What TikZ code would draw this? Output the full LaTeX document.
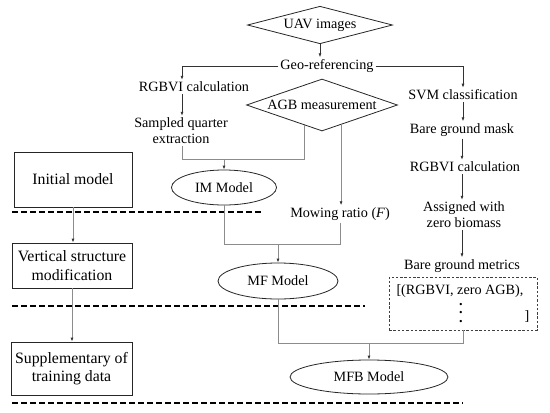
\documentclass[tikz,border=0pt]{standalone}
\usepackage{fontspec}
\setmainfont{Liberation Serif}
\usetikzlibrary{shapes.geometric,arrows.meta}
\begin{document}
\begin{tikzpicture}[x=1pt,y=-1pt,
  every node/.style={font=\fontsize{14.2}{16}\selectfont, inner sep=2pt},
  txt/.style={align=center},
  dia/.style={diamond, draw=black!85, line width=0.8pt, inner sep=0pt, aspect=2.9},
  ell/.style={ellipse, draw=black!85, line width=0.8pt, inner sep=0pt},
  lbox/.style={rectangle, draw=black!85, line width=0.8pt, align=center, font=\fontsize{15.8}{18.5}\selectfont, inner sep=0pt},
  arr/.style={draw=black!80, line width=0.7pt, -{Latex[length=4pt,width=3pt]}},
  gline/.style={draw=black!45, line width=0.9pt},
  garr/.style={gline, -{Latex[length=4pt,width=3pt,color=black!80]}},
  sepline/.style={draw=black, line width=1.2pt, dash pattern=on 5.5pt off 3.5pt},
  dbox/.style={rectangle, draw=black!75, line width=0.8pt, dash pattern=on 2.5pt off 1.8pt, inner sep=0pt},
]
\fill[white] (0,0) rectangle (550,413);
\useasboundingbox (0,0) rectangle (550,413);

% top
\node[dia, minimum width=145pt, minimum height=35pt] (uav) at (320,25) {UAV images};
\node[txt] (geo) at (327,66) {Geo-referencing};
\node[txt] (rgbL) at (194,87) {RGBVI calculation};
\node[txt] (sampled) at (181,131) {Sampled quarter\\extraction};
\node[dia, minimum width=151pt, minimum height=52pt] (agb) at (322,105) {AGB measurement};
\node[txt] (svm) at (463,95) {SVM classification};
\node[txt] (bgm) at (462,130) {Bare ground mask};
\node[txt] (rgbR) at (465,167) {RGBVI calculation};
\node[txt] (assign) at (464,215) {Assigned with\\zero biomass};
\node[txt] (mow) at (340,214) {Mowing ratio (\textit{F})};
\node[ell, minimum width=105pt, minimum height=35pt] (im) at (224,187.5) {IM Model};
\node[ell, minimum width=120pt, minimum height=36pt] (mf) at (278,281) {MF Model};
\node[txt] (metrics) at (462,266) {Bare ground metrics};
\node[dbox, minimum width=148pt, minimum height=53pt] (mbox) at (463,303.5) {};
\node[inner sep=1pt] (l1) at (460,291) {[(RGBVI, zero AGB),};
\node[inner sep=0pt] (vd) at (461,313) {\vbox{\baselineskip=8.5pt\lineskiplimit=0pt\hbox{\textbf{.}}\hbox{\textbf{.}}\hbox{\textbf{.}}}};
\node[inner sep=1pt] (rb) at (527,317) {]};
\node[ell, minimum width=158pt, minimum height=34pt] (mfb) at (369,377) {MFB Model};

% left boxes
\node[lbox, minimum width=118pt, minimum height=55pt] (init) at (73,179.5) {Initial model};
\node[lbox, minimum width=120pt, minimum height=45pt] (vert) at (72,265.5) {Vertical structure\\modification};
\node[lbox, minimum width=121pt, minimum height=53pt] (supp) at (71.5,368.5) {Supplementary of\\training data};

% separators
\draw[sepline] (12,212) -- (263,212);
\draw[sepline] (12,306) -- (365,306);
\draw[sepline] (12,403) -- (463,403);

% connectors
\coordinate (lx) at (182,0);
\draw[arr] (uav.south) -- (uav.south |- geo.north);
\draw[arr] (geo.west) -| (rgbL.north -| lx);
\draw[arr] (geo.east) -| (svm.north);
\draw[arr] (rgbL.south -| lx) -- (sampled.north -| lx);

\coordinate (jIM) at (224,159);
\draw[gline] (sampled.south -| lx) |- (jIM);
\draw[gline] (agb.230) |- (jIM);
\draw[garr] (jIM) -- (im.north);
\draw[garr] (agb.314) -- (agb.314 |- mow.north);

\coordinate (jMF) at (278,244);
\draw[gline] (im.south) |- (jMF);
\draw[gline] (mow.south) |- (jMF);
\draw[garr] (jMF) -- (mf.north);

\draw[arr] (svm.south) -- (svm.south |- bgm.north);
\draw[arr] (bgm.south) -- (bgm.south |- rgbR.north);
\draw[arr] (rgbR.south -| bgm.south) -- (bgm.south |- assign.north);
\draw[arr] (assign.south -| bgm.south) -- (bgm.south |- metrics.north);

\coordinate (jMFB) at (369,343);
\draw[gline] (mf.south) |- (jMFB);
\draw[gline] (mbox.south) |- (jMFB);
\draw[garr] (jMFB) -- (mfb.north);

\draw[garr] (init.south) -- (init.south |- vert.north);
\draw[garr] (vert.south) -- (vert.south |- supp.north);
\end{tikzpicture}
\end{document}
